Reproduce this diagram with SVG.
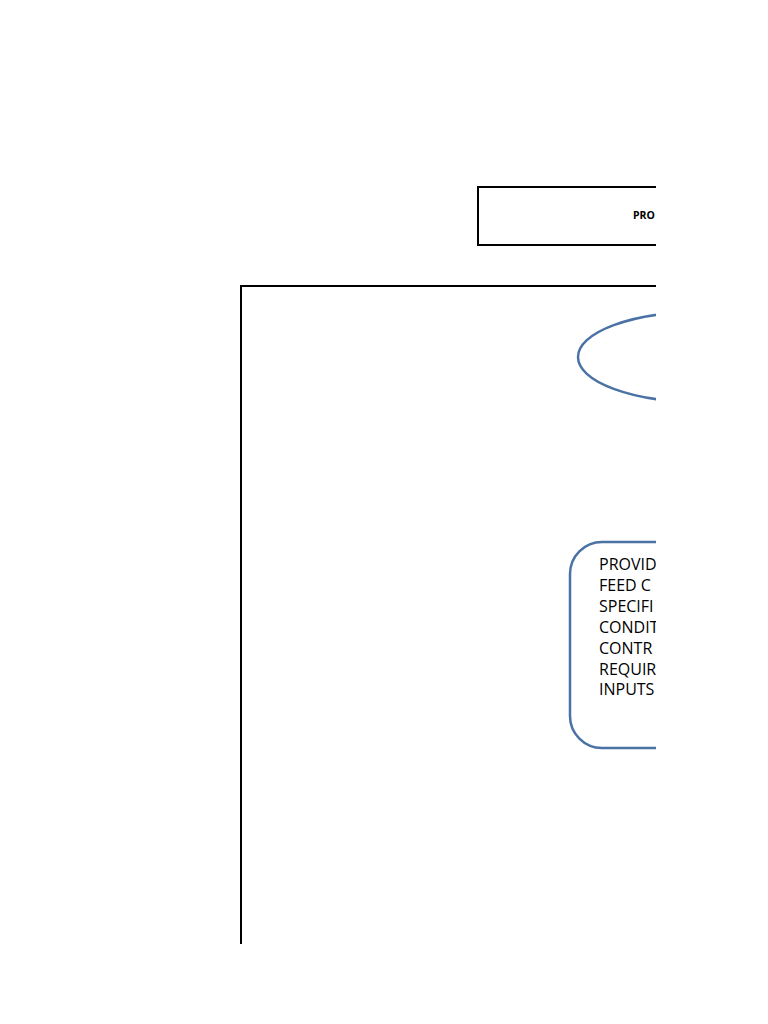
<svg xmlns="http://www.w3.org/2000/svg" width="768" height="1024" viewBox="0 0 768 1024">
<style>
.blk{fill:none;stroke:#000;stroke-width:2}
.blu{fill:none;stroke:#4a72a5;stroke-width:2.5}
.t{font-family:"Open Sans","Liberation Sans",sans-serif;font-size:16px;fill:#000}
.s{font-family:"Open Sans","Liberation Sans",sans-serif;font-size:10.5px;font-weight:bold;fill:#000}
</style>
<defs><clipPath id="c"><rect x="0" y="0" width="656" height="1024"/></clipPath></defs>
<rect width="768" height="1024" fill="#fff"/>
<g clip-path="url(#c)">
<g id="title"><rect class="blk" x="478" y="187" width="300" height="58"/><text class="s" x="633" y="219">PRO</text></g>
<g id="frame"><path class="blk" d="M241 944V286H700"/></g>
<g id="ellipse"><ellipse class="blu" cx="700" cy="357" rx="122" ry="45"/></g>
<g id="box"><rect class="blu" x="570" y="542" width="200" height="206" rx="32"/>
<text class="t"><tspan x="599" y="570">PROVID</tspan><tspan x="599" y="591">FEED C</tspan><tspan x="599" y="612">SPECIFI</tspan><tspan x="599" y="633">CONDIT</tspan><tspan x="599" y="654">CONTR</tspan><tspan x="599" y="675">REQUIR</tspan><tspan x="599" y="695">INPUTS</tspan></text></g>
<g id="connectors"></g>
</g>
</svg>
